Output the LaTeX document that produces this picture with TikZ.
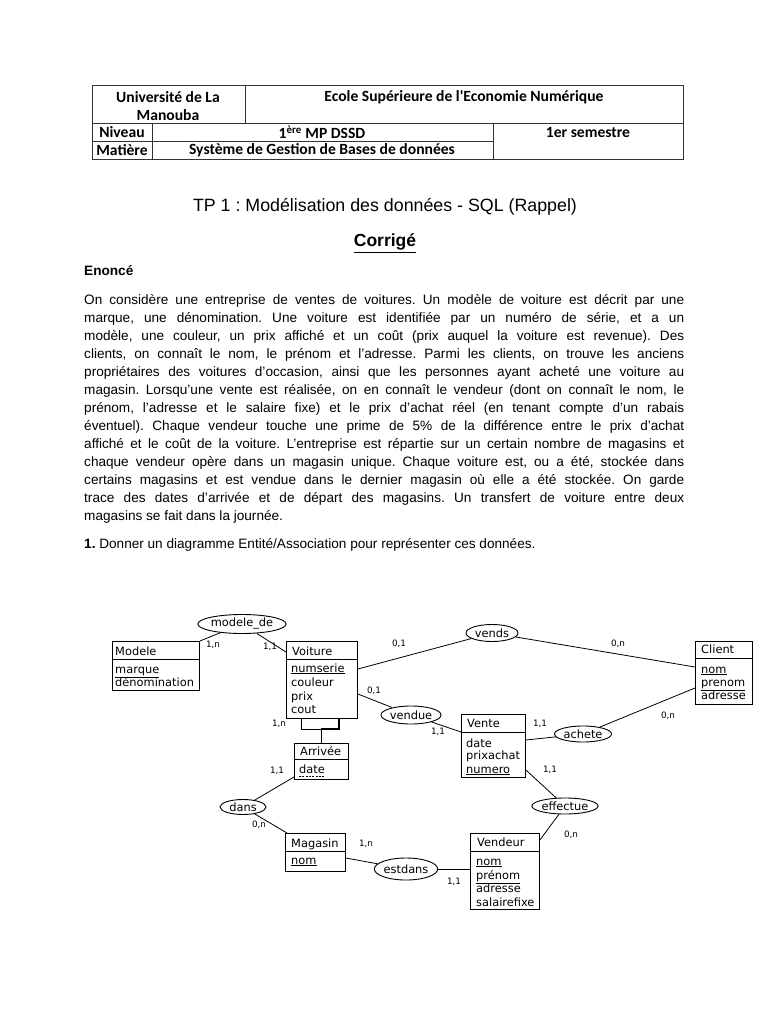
\documentclass[tikz,border=0pt]{standalone}
\usepackage{fontspec}
\setmainfont{Liberation Sans}
\newfontfamily\tabfont{Carlito}
\newfontfamily\erfont{DejaVu Sans}
\usetikzlibrary{shapes.geometric}
\frenchspacing
\begin{document}
\begin{tikzpicture}[x=1pt,y=-1pt,
  ent/.style={draw, line width=0.9pt, anchor=north west, inner sep=0pt},
  rel/.style={draw, ellipse, line width=0.9pt, inner sep=0pt, font=\erfont\fontsize{11.4}{12}\selectfont},
  txt/.style={anchor=base west, inner sep=0pt, font=\erfont\fontsize{11.4}{12}\selectfont},
  card/.style={anchor=center, inner sep=0pt, font=\erfont\fontsize{8.8}{9}\selectfont},
  conn/.style={line width=0.8pt},
  para/.style={anchor=base west, inner sep=0pt, font=\fontsize{13.6}{16}\selectfont},
  cell/.style={anchor=center, inner sep=0pt, font=\tabfont\bfseries\fontsize{15.6}{18}\selectfont, align=center},
  tline/.style={line width=0.6pt, draw=black!80},
]
\useasboundingbox (0,0) rectangle (768,1024);
\fill[white] (0,0) rectangle (768,1024);

% ---------- header table ----------
\draw[tline] (92,85) rectangle (683,159);
\draw[tline] (92,123) -- (683,123);
\draw[tline] (245,85) -- (245,123);
\draw[tline] (92,141) -- (493,141);
\draw[tline] (152,123) -- (152,159);
\draw[tline] (493,123) -- (493,159);
\node[cell] (univ) at (168,106) {Université de La\\Manouba};
\node[cell] (ecole) at (464,97) {Ecole Supérieure de l'Economie Numérique};
\node[cell] (niveau) at (122,132) {Niveau};
\node[cell] (mp) at (322,132) {1\textsuperscript{ère} MP DSSD};
\node[cell] (sem) at (588,132) {1er semestre};
\node[cell] (matiere) at (122,150) {Matière};
\node[cell] (sgbd) at (322,150) {Système de Gestion de Bases de données};

% ---------- titles ----------
\node[anchor=base, inner sep=0pt, font=\fontsize{17.8}{20}\selectfont] (title) at (385,212) {TP 1 : Modélisation des données - SQL (Rappel)};
\node[anchor=base, inner sep=0pt, font=\bfseries\fontsize{17.5}{20}\selectfont] (corr) at (385,247) {\underline{Corrigé}};
\node[para, font=\bfseries\fontsize{13.6}{16}\selectfont] (enonce) at (84,275) {Enoncé};

% ---------- paragraph ----------
\node[para] (l1) at (84,304) {\makebox[600pt][s]{On considère une entreprise de ventes de voitures. Un modèle de voiture est décrit par une}};
\node[para] (l2) at (84,322.05) {\makebox[600pt][s]{marque, une dénomination. Une voiture est identifiée par un numéro de série, et a un}};
\node[para] (l3) at (84,340.1) {\makebox[600pt][s]{modèle, une couleur, un prix affiché et un coût (prix auquel la voiture est revenue). Des}};
\node[para] (l4) at (84,358.15) {\makebox[600pt][s]{clients, on connaît le nom, le prénom et l’adresse. Parmi les clients, on trouve les anciens}};
\node[para] (l5) at (84,376.2) {\makebox[600pt][s]{propriétaires des voitures d’occasion, ainsi que les personnes ayant acheté une voiture au}};
\node[para] (l6) at (84,394.25) {\makebox[600pt][s]{magasin. Lorsqu’une vente est réalisée, on en connaît le vendeur (dont on connaît le nom, le}};
\node[para] (l7) at (84,412.3) {\makebox[600pt][s]{prénom, l’adresse et le salaire fixe) et le prix d’achat réel (en tenant compte d’un rabais}};
\node[para] (l8) at (84,430.35) {\makebox[600pt][s]{éventuel). Chaque vendeur touche une prime de 5\% de la différence entre le prix d’achat}};
\node[para] (l9) at (84,448.4) {\makebox[600pt][s]{affiché et le coût de la voiture. L’entreprise est répartie sur un certain nombre de magasins et}};
\node[para] (l10) at (84,466.45) {\makebox[600pt][s]{chaque vendeur opère dans un magasin unique. Chaque voiture est, ou a été, stockée dans}};
\node[para] (l11) at (84,484.5) {\makebox[600pt][s]{certains magasins et est vendue dans le dernier magasin où elle a été stockée. On garde}};
\node[para] (l12) at (84,502.55) {\makebox[600pt][s]{trace des dates d’arrivée et de départ des magasins. Un transfert de voiture entre deux}};
\node[para] (l13) at (84,520.6) {magasins se fait dans la journée.};
\node[para] (q1) at (84,548) {\textbf{1.} Donner un diagramme Entité/Association pour représenter ces données.};

% ---------- entities ----------
\node[ent, minimum width=87pt, minimum height=49pt] (modele) at (112,641) {};
\draw[line width=0.9pt] (112,659) -- (199,659);
\node[txt] (modeleT) at (115,655) {Modele};
\node[txt] (modeleA1) at (115,673) {\underline{marque}};
\node[txt] (modeleA2) at (115,686) {dénomination};

\node[ent, minimum width=71pt, minimum height=77pt] (voiture) at (286,641) {};
\draw[line width=0.9pt] (286,659) -- (357,659);
\node[txt] (voitureT) at (292,655) {Voiture};
\node[txt] (voitureA1) at (291,672) {\underline{numserie}};
\node[txt] (voitureA2) at (291,686) {couleur};
\node[txt] (voitureA3) at (291,700) {prix};
\node[txt] (voitureA4) at (291,713) {cout};

\node[ent, minimum width=57pt, minimum height=63pt] (client) at (695,641) {};
\draw[line width=0.9pt] (695,658) -- (752,658);
\node[txt] (clientT) at (701,653) {Client};
\node[txt] (clientA1) at (701,673) {\underline{nom}};
\node[txt] (clientA2) at (701,686) {\underline{prenom}};
\node[txt] (clientA3) at (701,699) {adresse};

\node[ent, minimum width=64pt, minimum height=63pt] (vente) at (461,714) {};
\draw[line width=0.9pt] (461,732) -- (525,732);
\node[txt] (venteT) at (467,727) {Vente};
\node[txt] (venteA1) at (466,747) {date};
\node[txt] (venteA2) at (466,759) {prixachat};
\node[txt] (venteA3) at (466,773) {\underline{numero}};

\node[ent, minimum width=54pt, minimum height=36pt] (arrivee) at (294,743) {};
\draw[line width=0.9pt] (294,759) -- (348,759);
\node[txt] (arriveeT) at (300,755) {Arrivée};
\node[txt] (arriveeA1) at (299,773) {date};
\draw[line width=0.7pt, dash pattern=on 2pt off 1.3pt] ([yshift=-3pt]arriveeA1.base west) -- ([yshift=-3pt]arriveeA1.base east);

\node[ent, minimum width=60pt, minimum height=38pt] (magasin) at (285,833) {};
\draw[line width=0.9pt] (285,851) -- (345,851);
\node[txt] (magasinT) at (291,847) {Magasin};
\node[txt] (magasinA1) at (291,864) {\underline{nom}};

\node[ent, minimum width=69pt, minimum height=76pt] (vendeur) at (470,833) {};
\draw[line width=0.9pt] (470,851) -- (539,851);
\node[txt] (vendeurT) at (477,846) {Vendeur};
\node[txt] (vendeurA1) at (476,865) {\underline{nom}};
\node[txt] (vendeurA2) at (476,879) {\underline{prénom}};
\node[txt] (vendeurA3) at (476,892) {adresse};
\node[txt] (vendeurA4) at (476,906) {salairefixe};

% ---------- relationships ----------
\node[rel, minimum width=80pt, minimum height=19pt] (modelede) at (242,624) {modele\_de};
\node[rel, minimum width=52pt, minimum height=17pt] (vends) at (492,633) {vends};
\node[rel, minimum width=60pt, minimum height=18pt] (vendue) at (411,715) {vendue};
\node[rel, minimum width=57pt, minimum height=16pt] (achete) at (583,734) {achete};
\node[rel, minimum width=60pt, minimum height=16pt] (effectue) at (565,806) {effectue};
\node[rel, minimum width=46pt, minimum height=15pt] (dans) at (243,807) {dans};
\node[rel, minimum width=62pt, minimum height=22pt] (estdans) at (406,869) {estdans};

% ---------- connectors ----------
\draw[conn] (modele.north east) -- (modelede);
\draw[conn] (modelede) -- (voiture.west |- 0,652);
\draw[conn] (voiture.east |- 0,669) -- (vends);
\draw[conn] (vends) -- (client.west |- 0,667);
\draw[conn] (voiture.east |- 0,694) -- (vendue);
\draw[conn] (vendue) -- (vente.west |- 0,732);
\draw[conn] (vente.east |- 0,740) -- (achete);
\draw[conn] (achete) -- (client.west |- 0,688);
\draw[conn] (vente.east |- 0,770) -- (effectue);
\draw[conn] (effectue) -- (vendeur.east |- 0,840);
\draw[conn] (arrivee.west |- 0,777) -- (dans);
\draw[conn] (dans) -- ([xshift=2pt]magasin.north west);
\draw[conn] (magasin.east |- 0,858) -- (estdans);
\draw[conn] (estdans) -- (vendeur.west |- 0,869);
% weak link Voiture - Arrivée
\coordinate (bl) at (301,729);
\coordinate (br) at (339,729);
\coordinate (bm) at (arrivee.north |- bl);
\draw[conn] (voiture.south -| bl) -- (bl) -- (bm);
\draw[line width=1.8pt] (bm) -- (br) -- (voiture.south -| br);
\draw[conn] (bm) -- (arrivee.north);

% ---------- cardinalities ----------
\node[card] (c1) at (213,645) {1,n};
\node[card] (c2) at (270,647) {1,1};
\node[card] (c3) at (399,644) {0,1};
\node[card] (c4) at (618,644) {0,n};
\node[card] (c5) at (374,691) {0,1};
\node[card] (c6) at (438,732) {1,1};
\node[card] (c7) at (540,724) {1,1};
\node[card] (c8) at (668,716) {0,n};
\node[card] (c9) at (550,770) {1,1};
\node[card] (c10) at (571,835) {0,n};
\node[card] (c11) at (279,724) {1,n};
\node[card] (c12) at (277,771) {1,1};
\node[card] (c13) at (259,825) {0,n};
\node[card] (c14) at (366,844) {1,n};
\node[card] (c15) at (454,882) {1,1};
\end{tikzpicture}
\end{document}
